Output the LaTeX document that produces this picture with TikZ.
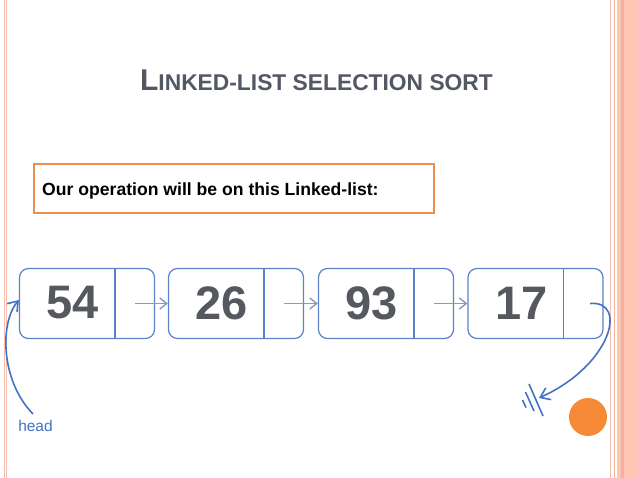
\documentclass[tikz,border=0pt]{standalone}
\usepackage{fontspec}
\setmainfont{Liberation Sans}
\usetikzlibrary{arrows.meta,calc}
\definecolor{boxblue}{HTML}{5B82C8}
\definecolor{linkblue}{HTML}{8499CC}
\definecolor{curveblue}{HTML}{4472C4}
\definecolor{orangeline}{HTML}{EB8F4E}
\definecolor{dotorange}{HTML}{F68A36}
\definecolor{titlegray}{HTML}{535865}
\definecolor{numgray}{HTML}{55585F}
\definecolor{numshadow}{HTML}{C9CBD0}
\definecolor{pinkthin}{HTML}{F4BFAE}
\definecolor{salmon}{HTML}{FCC6B2}
\definecolor{salmondark}{HTML}{F5B19B}
\tikzset{
  listbox/.style={draw=boxblue, line width=1.2pt, rounded corners=9pt, minimum width=135pt, minimum height=70pt, inner sep=0pt},
  divider/.style={draw=boxblue, line width=1.2pt},
  val/.style={font=\bfseries\fontsize{47}{47}\selectfont, text=numgray, inner sep=0pt},
  link/.style={draw=linkblue, line width=1.4pt, -{Straight Barb[length=7pt,width=11pt]}},
  curvearrow/.style={draw=curveblue, line width=1.6pt, -{Straight Barb[length=9pt,width=13pt]}},
  gndline/.style={draw=curveblue, line width=1.6pt},
}
\begin{document}
\begin{tikzpicture}[x=1pt,y=-1pt]
\useasboundingbox (0,0) rectangle (638,478);
\fill[white] (0,0) rectangle (638,478);
% borders
\draw[pinkthin, line width=0.9pt] (4.5,0) -- (4.5,478);
\draw[pinkthin, line width=0.9pt] (6.8,0) -- (6.8,478);
\draw[pinkthin, line width=1.4pt] (610.5,0) -- (610.5,478);
\draw[salmondark, line width=1pt] (614,0) -- (614,478);
\fill[salmon] (617,0) rectangle (638,478);
\fill[salmondark] (621,0) rectangle (623.5,478);
% title
\node[anchor=base, text=titlegray, font=\bfseries, inner sep=0pt] (title) at (316.5,91)
  {{\fontsize{30}{30}\selectfont L}{\fontsize{22.8}{22.8}\selectfont INKED-LIST SELECTION SORT}};
% text box
\node[draw=orangeline, line width=1.5pt, minimum width=400pt, minimum height=49pt, inner sep=0pt] (tb) at (234,188.5) {};
\node[anchor=base west, inner sep=0pt, font=\bfseries\fontsize{17.6}{17.6}\selectfont] (tt) at (42,196)
  {Our operation will be on this Linked-list:};
% list boxes
\node[listbox] (b1) at (87,303.5) {};
\node[listbox] (b2) at (236,303.5) {};
\node[listbox] (b3) at (386,303.5) {};
\node[listbox] (b4) at (535.5,303.5) {};
\foreach \b in {b1,b2,b3,b4}{
  \draw[divider] ([xshift=96pt]\b.north west) -- ([xshift=96pt]\b.south west);
}
\node[val] (v1) at (73,303) {54};
\node[val] (v2) at (222,303) {26};
\node[val] (v3) at (372,303) {93};
\node[val] (v4) at (522,303) {17};
% links
\draw[link] ([xshift=-20pt]b1.east) -- (b2.west);
\draw[link] ([xshift=-20pt]b2.east) -- (b3.west);
\draw[link] ([xshift=-20pt]b3.east) -- (b4.west);
% null pointer
\coordinate (nullstart) at ([xshift=-13.5pt]b4.east);
\coordinate (gnd) at (539,398);
\draw[curvearrow] (nullstart) .. controls (628,300) and (612,365) .. (gnd);
\draw[gndline] (529,384) -- (543,416);
\draw[gndline] (525.5,392) -- (534,411);
\draw[gndline] (522.5,400) -- (526,407.5);
% orange dot
\node[circle, fill=dotorange, minimum size=38pt, inner sep=0pt] (dot) at (588,417) {};
% head
\node[anchor=base, inner sep=0pt, text=curveblue, font=\fontsize{15.5}{15.5}\selectfont] (head) at (35.5,432) {head};
\coordinate (headstart) at (33,414);
\draw[curvearrow] (headstart) .. controls (0,380) and (0,322) .. ([yshift=3.5pt]b1.west);
\end{tikzpicture}
\end{document}
